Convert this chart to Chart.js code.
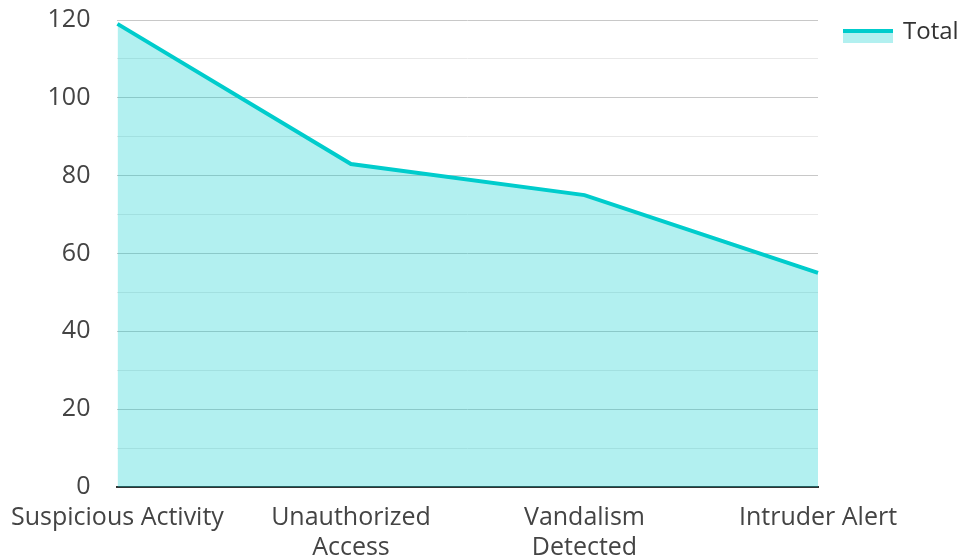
<!DOCTYPE html>
<html>
<head>
<meta charset="utf-8">
<script src="https://cdn.jsdelivr.net/npm/chart.js@4"></script>
<style>
  html, body { margin: 0; padding: 0; background: #fff; }
  #wrap { width: 959px; height: 560px; }
</style>
</head>
<body>
<div id="wrap"><canvas id="myChart" width="959" height="560"></canvas></div>
<script>
// chart data
const categories = [
  'Suspicious Activity',
  ['Unauthorized', 'Access'],
  ['Vandalism', 'Detected'],
  'Intruder Alert'
];
const totals = [119, 83, 75, 55];
const seriesName = 'Total';
const yTicks = [0, 20, 40, 60, 80, 100, 120];

const lineColor = 'rgb(0, 204, 204)';
const fillColor = 'rgba(0, 204, 204, 0.3)';
const fontName = 'Open Sans';

// legend drawn by hand: swatch with a thick top line, then the label
const sideLegend = {
  id: 'sideLegend',
  afterDraw(chart) {
    const ctx = chart.ctx;
    const x = chart.chartArea.right + 25;
    const y = 29;
    ctx.save();
    ctx.fillStyle = fillColor;
    ctx.fillRect(x, y, 50, 14);
    ctx.fillStyle = lineColor;
    ctx.fillRect(x, y, 50, 4);
    ctx.fillStyle = '#333';
    ctx.font = '24px "' + fontName + '"';
    ctx.textBaseline = 'middle';
    ctx.fillText(seriesName, x + 60, y + 3);
    ctx.restore();
  }
};

function initChart(target) {
  const data = {
    labels: categories,
    datasets: [{
      label: seriesName,
      data: totals,
      borderColor: lineColor,
      backgroundColor: fillColor,
      borderWidth: 4,
      fill: 'origin',
      tension: 0,
      pointRadius: 0
    }]
  };

  const config = {
    type: 'line',
    data: data,
    plugins: [sideLegend],
    options: {
      responsive: false,
      animation: false,
      layout: { padding: { top: 0, right: 141, left: 0, bottom: 0 } },
      plugins: {
        tooltip: { enabled: false },
        legend: { display: false }
      },
      scales: {
        x: {
          offset: false,
          // ticks hidden, tickLength only spaces the labels
          grid: { display: false, drawTicks: true, tickLength: 5 },
          border: { display: true, color: '#333', width: 2 },
          afterFit: (axis) => { axis.height = 73; },
          ticks: {
            color: '#444',
            padding: 11,
            maxRotation: 0,
            autoSkip: false,
            font: { family: fontName, size: 25 }
          }
        },
        y: {
          min: 0,
          max: 120,
          border: { display: false },
          grid: {
            drawTicks: true,
            tickLength: 22,
            tickColor: 'rgba(0,0,0,0)',
            color: (c) => (c.tick.value % 20 === 0 ? '#c8c8c8' : '#e8e8e8'),
            lineWidth: 1
          },
          ticks: {
            stepSize: 10,
            padding: 5,
            color: '#444',
            font: { family: fontName, size: 25 },
            callback: (v) => (yTicks.includes(v) ? v : '')
          }
        }
      }
    }
  };

  return new Chart(target, config);
}

document.addEventListener('DOMContentLoaded', () => {
  initChart(document.querySelector('#myChart'));
});
</script>
</body>
</html>
